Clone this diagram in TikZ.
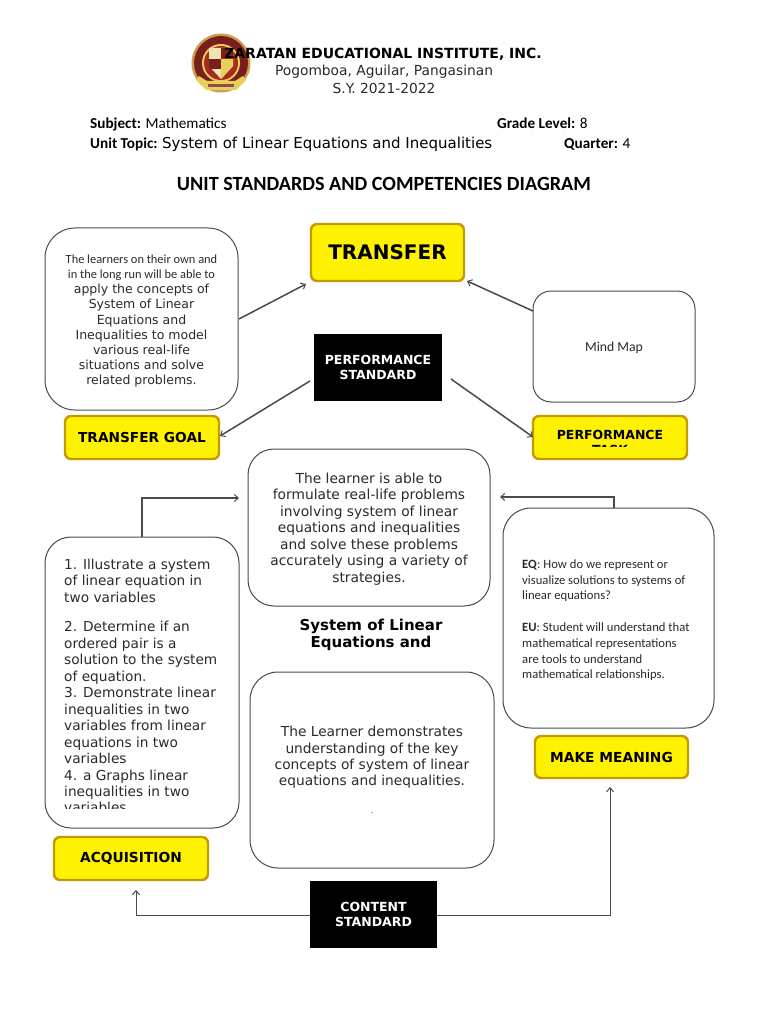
\documentclass[tikz,border=0pt]{standalone}
\usepackage{fontspec}
\setmainfont{DejaVu Sans}
\newfontfamily\calib{Carlito}
\usetikzlibrary{arrows.meta,calc}
\definecolor{goldb}{HTML}{C49A00}
\definecolor{inkc}{HTML}{2A2A2A}
\definecolor{linec}{HTML}{4A4A4A}
\definecolor{logotan}{HTML}{C8A050}
\definecolor{logomar}{HTML}{7A1E1C}
\definecolor{logored}{HTML}{A82A22}
\definecolor{logoyel}{HTML}{E8CF5A}
\definecolor{logocream}{HTML}{EFE3B0}
\newcommand{\fs}[2]{\fontsize{#1}{#2}\selectfont}
\tikzset{
  x=1pt,y=-1pt,
  whitebox/.style={draw=linec,line width=1pt,fill=white,rounded corners=#1,inner sep=0pt,outer sep=0pt},
  whitebox/.default=26pt,
  yellowbox/.style={draw=goldb,line width=2.4pt,fill=yellow,rounded corners=6pt,inner sep=0pt,outer sep=0pt,font=\bfseries},
  blackbox/.style={fill=black,text=white,inner sep=0pt,outer sep=0pt,font=\bfseries\fs{12.5}{15},align=center},
  body/.style={text=inkc,align=center,inner sep=0pt},
  conn/.style={draw=linec,line width=1.5pt,-{Straight Barb[length=4pt,width=7pt,line width=1pt]}},
  connthin/.style={draw=linec,line width=1pt,-{Straight Barb[length=4pt,width=7pt,line width=1pt]}},
  plain/.style={inner sep=0pt,text=black},
}
\newcommand{\bx}[5]{\node[#1,minimum width=#4-#2,minimum height=#5-#3,anchor=north west] at (#2,#3)}
\begin{document}
\begin{tikzpicture}
\useasboundingbox (0,0) rectangle (768,1024);
\fill[white] (0,0) rectangle (768,1024);
% logo
\node[circle,fill=logotan,minimum size=59pt,inner sep=0pt] (logo) at (221,63) {};
\fill[logomar] (221,63) circle (27);
\fill[logoyel] (221,63) circle (19);
\fill[logored] (221,63) circle (17);
\fill[logocream] (209,48) -- (233,48) -- (233,66) -- (221,79) -- (209,66) -- cycle;
\fill[logomar] (221,48) rectangle (233,59);
\fill[logomar] (209,59) rectangle (221,69);
\fill[logoyel] (221,59) -- (233,59) -- (233,66) -- (221,79) -- cycle;
\fill[logoyel] (199,76) -- (207,81) -- (235,81) -- (243,76) -- (246,80) -- (236,90) -- (206,90) -- (196,80) -- cycle;
\fill[logomar!80!white] (208,84) rectangle (234,87);
% header
\node[plain,font=\bfseries\fs{14}{16}] (school) at (383,54.5) {ZARATAN EDUCATIONAL INSTITUTE, INC.};
\node[plain,font=\fs{13.8}{16},text=inkc] (addr) at (384,71.5) {Pogomboa, Aguilar, Pangasinan};
\node[plain,font=\fs{13.8}{16},text=inkc] (sy) at (384,88) {S.Y. 2021-2022};
\node[plain,anchor=base west,font=\calib\fs{15.2}{17}] (subj) at (90,129) {\textbf{Subject:} \fs{15.2}{17}Mathematics};
\node[plain,anchor=base west,font=\calib\fs{15.2}{17}] (grade) at (497,129) {\textbf{Grade Level:} \fs{15.2}{17}8};
\node[plain,anchor=base west,font=\calib\fs{15.2}{17}] (unit) at (90,149) {\textbf{Unit Topic:} {\rmfamily\fs{15}{17}System of Linear Equations and Inequalities}};
\node[plain,anchor=base west,font=\calib\fs{15.2}{17}] (quarter) at (564,149) {\textbf{Quarter:} \fs{15.2}{17}4};
\node[plain,font=\calib\bfseries\fs{20.15}{22}] (title) at (384,184) {UNIT STANDARDS AND COMPETENCIES DIAGRAM};
% top row
\bx{yellowbox}{311}{224}{464}{281} (transfer) {\fs{20}{24}TRANSFER};
\bx{whitebox=30pt}{45}{228}{238}{410} (goalbox) {};
\node[body,font=\fs{12.5}{15.15}] (goaltext) at (141.5,321) {{\calib\fs{12.4}{15.15}The learners on their own and}\\ {\calib\fs{12.4}{15.15}in the long run will be able to}\\ apply the concepts of\\ System of Linear\\ Equations and\\ Inequalities to model\\ various real-life\\ situations and solve\\ related problems.};
\bx{whitebox=18pt}{533}{291}{695}{402} (mapbox) {\raisebox{-4.5pt}[0pt][0pt]{\calib\fs{13.7}{16}\color{inkc}Mind Map}};
\bx{blackbox}{314}{334}{442}{401} (perf) {PERFORMANCE\\STANDARD};
\bx{yellowbox}{65}{416}{219}{459} (goal) {\fs{13.7}{16}TRANSFER GOAL};
\bx{yellowbox}{533}{416}{687}{459} (task) {};
\begin{scope}
\clip (535,418) rectangle (685,446.5);
\node[plain,font=\bfseries\fs{12.5}{15.5},align=center,anchor=north] (tasktext) at (610,430) {PERFORMANCE\\TASK};
\end{scope}
% middle
\bx{whitebox=26pt}{248}{449}{490}{606} (stdbox) {};
\node[body,font=\fs{13.8}{16.5}] (stdtext) at (369,529) {The learner is able to\\ formulate real-life problems\\ involving system of linear\\ equations and inequalities\\ and solve these problems\\ accurately using a variety of\\ strategies.};
\node[plain,font=\bfseries\fs{15}{17}\vphantom{y},align=center] (sys) at (371,634.5) {System of Linear\\Equations and};
\bx{whitebox=28pt}{250}{672}{494}{868} (contbox) {};
\node[body,font=\fs{13.75}{16.35}] (conttext) at (372,757.5) {The Learner demonstrates\\ understanding of the key\\ concepts of system of linear\\ equations and inequalities.};
\node[plain,font=\fs{7}{8}] (dot) at (372,813) {.};
\bx{whitebox=26pt}{45}{537}{239}{828} (acqbox) {};
\begin{scope}
\clip (50,545) rectangle (235,808);
\node[body,align=left,anchor=north west,font=\fs{13.7}{16.45}] (acqtext) at (64,558.5) {1. Illustrate a system\\ of linear equation in\\ two variables\\[13.5pt] 2. Determine if an\\ ordered pair is a\\ solution to the system\\ of equation.\\ 3. Demonstrate linear\\ inequalities in two\\ variables from linear\\ equations in two\\ variables\\ 4. a Graphs linear\\ inequalities in two\\ variables};
\end{scope}
\bx{whitebox=28pt}{503}{508}{714}{728} (eqbox) {};
\node[body,align=left,anchor=north west,font=\calib\fs{12.67}{15.7}] (eqtext) at (522,559.5) {\textbf{EQ}: How do we represent or\\ visualize solutions to systems of\\ linear equations?\\[16pt] \textbf{EU}: Student will understand that\\ mathematical representations\\ are tools to understand\\ mathematical relationships.};
\bx{yellowbox}{535}{736}{688}{778} (meaning) {\fs{13.8}{16}MAKE MEANING};
\bx{yellowbox}{54}{837}{208}{880} (acq) {\fs{13.8}{16}ACQUISITION};
\bx{blackbox}{310}{881}{437}{948} (content) {CONTENT\\STANDARD};
% connector ends
\coordinate (g1) at (239,319);  \coordinate (t1) at (306,284);
\coordinate (m1) at (533,311);  \coordinate (t2) at (467,281);
\coordinate (p1) at (310,381);  \coordinate (g2) at (220,436);
\coordinate (p2) at (451,379);  \coordinate (k2) at (533,437);
\coordinate (a1) at (142,537);  \coordinate (s1) at (239,498);
\coordinate (e1) at (614,508);  \coordinate (s2) at (500,497);
\coordinate (c1) at (310,915);  \coordinate (a2) at (136,890);
\coordinate (c2) at (437,915);  \coordinate (m2) at (610,787);
\draw[conn] (g1) -- (t1);
\draw[conn] (m1) -- (t2);
\draw[conn] (p1) -- (g2);
\draw[conn] (p2) -- (k2);
\draw[conn] (a1) |- (s1);
\draw[conn] (e1) |- (s2);
\draw[connthin] (c1) -| (a2);
\draw[connthin] (c2) -| (m2);
\end{tikzpicture}
\end{document}
